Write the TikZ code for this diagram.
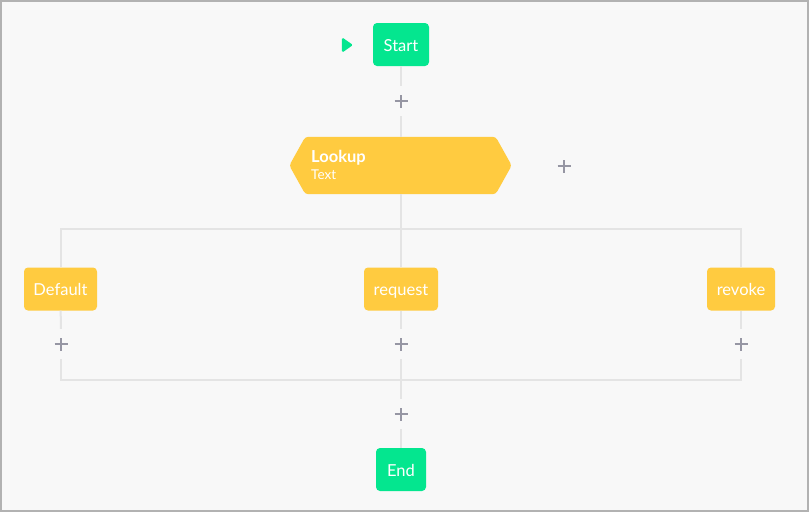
\documentclass[tikz,border=0pt]{standalone}
\usepackage{fontspec}
\setmainfont{Lato}
\usetikzlibrary{shapes.geometric}
\definecolor{bg}{RGB}{248,248,248}
\definecolor{frame}{RGB}{178,178,178}
\definecolor{flowgreen}{RGB}{4,230,143}
\definecolor{flowyellow}{RGB}{255,203,64}
\definecolor{pluscol}{RGB}{150,150,163}
\definecolor{linecol}{RGB}{228,228,228}
\tikzset{
  x=1pt, y=-1pt,
  boxfont/.style={font=\fontsize{16.5}{19}\selectfont, text height=14pt, text depth=1pt},
  termbox/.style={fill=flowgreen, rounded corners=4pt, text=white, boxfont, inner sep=0pt, minimum height=43pt},
  casebox/.style={fill=flowyellow, rounded corners=4pt, text=white, boxfont, inner sep=0pt, minimum height=43pt},
  plusnode/.style={minimum size=30pt, inner sep=0pt,
    path picture={\draw[pluscol, line width=1.8pt] ([xshift=-6.5pt]path picture bounding box.center) -- ([xshift=6.5pt]path picture bounding box.center);
                  \draw[pluscol, line width=1.8pt] ([yshift=-6.5pt]path picture bounding box.center) -- ([yshift=6.5pt]path picture bounding box.center);}},
  link/.style={draw=linecol, line width=2pt},
}
\begin{document}
\begin{tikzpicture}
\fill[bg] (0,0) rectangle (809,512);
\draw[frame, line width=2pt] (1,1) rectangle (808,511);
\useasboundingbox (0,0) rectangle (809,512);

% nodes
\node[termbox, minimum width=56pt] (start) at (401,44.5) {Start};
\node[fill=flowgreen, isosceles triangle, isosceles triangle apex angle=70, inner sep=0pt, minimum height=11pt, minimum width=12pt, rounded corners=1.5pt] (play) at (346,45) {};
\node[plusnode] (p1) at (401,101) {};
\node[minimum width=222pt, minimum height=57pt, inner sep=0pt] (lookup) at (400.5,165.5) {};
\fill[flowyellow, rounded corners=3pt] (lookup.west) -- ([xshift=16pt]lookup.north west) -- ([xshift=-16pt]lookup.north east) -- (lookup.east) -- ([xshift=-16pt]lookup.south east) -- ([xshift=16pt]lookup.south west) -- cycle;
\node[anchor=base west, text=white, font=\fontsize{16.5}{19}\selectfont\bfseries, inner sep=0pt] (ltitle) at (311,162.5) {Lookup};
\node[anchor=base west, text=white, font=\fontsize{13.5}{16}\selectfont, inner sep=0pt] (lsub) at (311,179) {Text};
\node[plusnode] (p2) at (564,166) {};

\coordinate (split) at (401,229);
\node[casebox, minimum width=73pt] (default) at (60.5,289) {Default};
\node[casebox, minimum width=74pt] (request) at (401,289) {request};
\node[casebox, minimum width=68pt] (revoke) at (741,289) {revoke};
\node[plusnode] (pd) at (61,344) {};
\node[plusnode] (pr) at (401,344) {};
\node[plusnode] (pv) at (741,344) {};
\coordinate (join) at (401,380);
\node[plusnode] (p3) at (401,414) {};
\node[termbox, minimum width=50pt] (end) at (401,469.5) {End};

% connectors
\path[link] (start) -- (p1);
\path[link] (p1) -- (p1 |- lookup.north);
\path[link] (split |- lookup.south) -- (split);
\path[link] (split) -| (default.north);
\path[link] (split) -| (revoke.north);
\path[link] (split) -- (request.north);
\path[link] (default) -- (pd);
\path[link] (request) -- (pr);
\path[link] (revoke) -- (pv);
\path[link] (pd) |- (join);
\path[link] (pv) |- (join);
\path[link] (pr) -- (join);
\path[link] (join) -- (p3);
\path[link] (p3) -- (end);
\end{tikzpicture}
\end{document}
